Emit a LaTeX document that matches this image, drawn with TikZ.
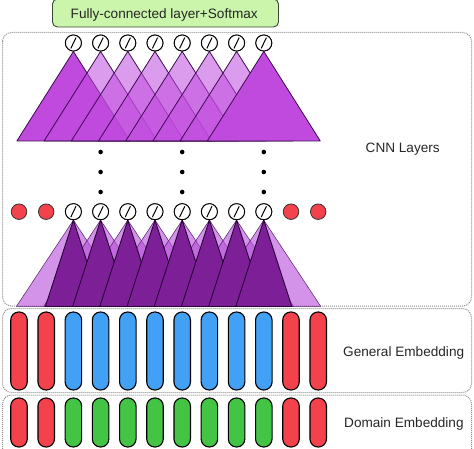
\documentclass[tikz,border=0pt]{standalone}
\usepackage{fontspec}
\setmainfont{Liberation Sans}
\usetikzlibrary{calc}
\definecolor{tpurple}{RGB}{192,74,222}
\definecolor{tedge}{RGB}{60,10,80}
\definecolor{lpurple}{RGB}{182,80,218}
\definecolor{ledge}{RGB}{90,30,110}
\definecolor{dpurple}{RGB}{125,32,152}
\definecolor{dedge}{RGB}{40,0,55}
\definecolor{cred}{RGB}{243,66,76}
\definecolor{cblue}{RGB}{66,160,245}
\definecolor{cgreen}{RGB}{68,196,68}
\definecolor{fcgreen}{RGB}{202,245,170}
\definecolor{fcedge}{RGB}{60,70,55}
\definecolor{boxgray}{RGB}{140,140,140}
\tikzset{
  dotbox/.style={draw=boxgray, line width=1pt, dash pattern=on 1pt off 1pt, rounded corners=9pt},
  fcbox/.style={draw=fcedge, fill=fcgreen, line width=0.9pt, rounded corners=5pt, minimum width=226pt, minimum height=28pt, inner sep=0pt},
  lbl/.style={font=\fontsize{13.6pt}{15pt}\selectfont, text=black!85, inner sep=0pt, anchor=base west},
  unit/.style={circle, draw=black, fill=white, line width=0.9pt, minimum size=16pt, inner sep=0pt,
    path picture={\draw[line width=1pt] ([shift={(-2.6pt,-5.4pt)}]path picture bounding box.center) -- ([shift={(2.6pt,5.4pt)}]path picture bounding box.center);}},
  padunit/.style={circle, draw=black!80, fill=cred, line width=0.8pt, minimum size=15.5pt, inner sep=0pt},
  vdot/.style={circle, fill=black, minimum size=4.6pt, inner sep=0pt},
  toptri/.style={fill=tpurple, draw=tedge, line width=0.8pt, line join=round},
  ghost/.style={fill opacity=0.55},
  lighttri/.style={fill=lpurple, fill opacity=0.62, draw=ledge, line width=0.5pt, line join=round},
  darktri/.style={fill=dpurple, draw=dedge, line width=0.9pt, line join=round},
  bar/.style={draw=black, line width=1.1pt, rounded corners=8pt, minimum width=16.5pt, inner sep=0pt},
  genbar/.style={bar, minimum height=78pt},
  dombar/.style={bar, minimum height=49pt}
}
\begin{document}
\begin{tikzpicture}[x=1pt,y=-1pt]
\useasboundingbox (0,0) rectangle (474,449);
% dotted group boxes
\draw[dotbox] (2.5,32.5) rectangle (471.5,306);
\draw[dotbox] (2.5,308.5) rectangle (471.5,392.5);
\draw[dotbox] (2.5,395) rectangle (471.5,460);
% fully connected box
\node[fcbox] (fcbox) at (165.5,13) {};
\node[lbl] (fc) at (70.5,19) {Fully-connected layer+Softmax};
% unit positions
\foreach \i in {0,...,11}{
  \pgfmathsetmacro{\xx}{19+27.2*\i}
  \coordinate (p\i) at (\xx,211.7);
  \coordinate (q\i) at (\xx,43);
}
% top circles (named first to anchor triangles)
\foreach \k in {2,...,9}{
  \node[unit] (t\k) at (q\k) {};
}
% top triangles
\draw[toptri] (t2.south) -- ++(-56.5,89.5) -- ++(113,0) -- cycle;
\foreach \k in {3,...,8}{
  \draw[toptri,ghost] (t\k.south) -- ++(-56.5,89.5) -- ++(113,0) -- cycle;
}
\draw[toptri] (t9.south) -- ++(-56.5,89.5) -- ++(113,0) -- cycle;
% redraw top circles above triangles
\foreach \k in {2,...,9}{
  \node[unit] (tt\k) at (q\k) {};
}
% bottom circles
\node[padunit] (b0) at (p0) {};
\node[padunit] (b1) at (p1) {};
\foreach \k in {2,...,9}{
  \node[unit] (b\k) at (p\k) {};
}
\node[padunit] (b10) at (p10) {};
\node[padunit] (b11) at (p11) {};
% bottom triangles
\foreach \k in {2,...,9}{
  \draw[lighttri] (b\k.south) -- ++(-57,86.3) -- ++(114,0) -- cycle;
}
\foreach \k in {2,...,9}{
  \draw[darktri] (b\k.south) -- ++(-28,86.3) -- ++(56,0) -- cycle;
}
\foreach \k in {2,...,9}{
  \node[unit] (bb\k) at (p\k) {};
}
% vertical dots
\foreach \k/\n in {3/a,6/b,9/c}{
  \node[vdot] (d\n1) at ($(p\k)+(0,-59.7)$) {};
  \node[vdot] (d\n2) at ($(p\k)+(0,-39.7)$) {};
  \node[vdot] (d\n3) at ($(p\k)+(0,-19.7)$) {};
}
% embedding bars
\foreach \i in {0,...,11}{
  \pgfmathsetmacro{\xx}{19+27.2*\i}
  \ifnum\i<2 \def\gc{cred}\def\dc{cred}\else\ifnum\i>9 \def\gc{cred}\def\dc{cred}\else\def\gc{cblue}\def\dc{cgreen}\fi\fi
  \node[genbar, fill=\gc] (g\i) at (\xx,351) {};
  \node[dombar, fill=\dc] (m\i) at (\xx,422.5) {};
}
% labels
\node[lbl] (cnn) at (365.5,152.5) {CNN Layers};
\node[lbl] (gen) at (343,356.7) {General Embedding};
\node[lbl] (dom) at (344,427.7) {Domain Embedding};
\end{tikzpicture}
\end{document}
